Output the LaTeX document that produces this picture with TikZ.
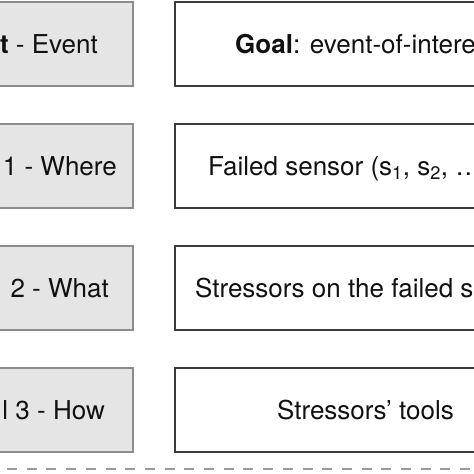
\documentclass[tikz,border=0pt]{standalone}
\usepackage{fontspec}
\setmainfont{TeX Gyre Heros}
\definecolor{lightfill}{HTML}{E5E5E5}
\definecolor{boxgray}{HTML}{8C8C8C}
\definecolor{darkline}{HTML}{3A3A3A}
\definecolor{dashgray}{HTML}{9A9A9A}
\definecolor{ink}{HTML}{111111}
\begin{document}
\begin{tikzpicture}[x=1pt,y=-1pt,
  lbox/.style={draw=boxgray, fill=lightfill, line width=1.5pt, minimum width=140pt, minimum height=84pt, inner sep=0pt},
  rbox/.style={draw=darkline, fill=white, line width=1.2pt, minimum width=330pt, minimum height=84pt, inner sep=0pt},
  lbl/.style={font=\fontsize{26}{30}\selectfont, text=ink, inner sep=0pt},
  dashline/.style={draw=dashgray, line width=1.3pt, dash pattern=on 10pt off 9.7pt}]
\useasboundingbox (0,0) rectangle (474,474);
\clip (0,0) rectangle (474,474);
% left boxes
\node[lbox] (l1) at (63,44) {};
\node[lbox] (l2) at (63,166) {};
\node[lbox] (l3) at (63,288) {};
\node[lbox] (l4) at (63,410) {};
% right boxes
\node[rbox] (r1) at (340,44) {};
\node[rbox] (r2) at (340,166) {};
\node[rbox] (r3) at (340,288) {};
\node[rbox] (r4) at (340,410) {};
% left texts
\node[lbl, anchor=base east] (t1) at (98,53) {\textbf{t} - Event};
\node[lbl, anchor=base east] (t2) at (117,175) {1 - Where};
\node[lbl, anchor=base east] (t3) at (109,297) {2 - What};
\node[lbl, anchor=base east] (t4) at (105,419) {l 3 - How};
% right texts
\node[lbl, anchor=base west] (g1) at (235,53) {\textbf{Goal}: event-of-interest};
\node[lbl, anchor=base west] (g2) at (208,175) {Failed sensor (s\textsubscript{1}, s\textsubscript{2}, …, s\textsubscript{n})};
\node[lbl, anchor=base west] (g3) at (195,297) {Stressors on the failed sensor(s)};
\node[lbl, anchor=base west] (g4) at (277,419) {Stressors’ tools};
% dashed separator
\coordinate (d0) at (7,469);
\coordinate (d1) at (480,469);
\draw[dashline] (d0) -- (d1);
\end{tikzpicture}
\end{document}
